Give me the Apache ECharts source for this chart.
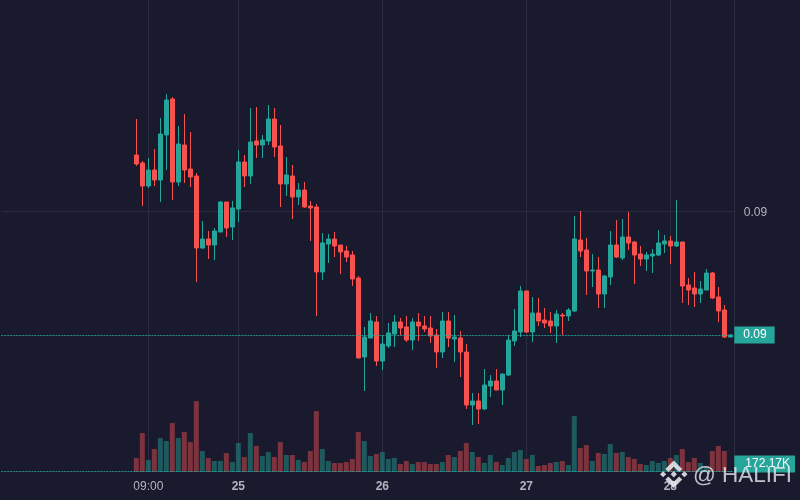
<!DOCTYPE html>
<html>
<head>
<meta charset="utf-8">
<script src="https://cdn.jsdelivr.net/npm/echarts@6/dist/echarts.min.js"></script>
<style>html,body{margin:0;padding:0;background:#191a2e}#c{width:800px;height:500px}</style>
</head>
<body>
<div id="c"></div>
<script>
const openP = [0.09056,0.09048,0.09025,0.09041,0.09031,0.09076,0.09112,0.09029,0.09066,0.09042,
0.09035,0.08963,0.08972,0.08966,0.08979,0.09009,0.08984,0.09002,0.09049,0.09035,
0.09070,0.09066,0.09070,0.09092,0.09065,0.09027,0.09035,0.09014,0.09021,0.09005,
0.09004,0.08939,0.08967,0.08972,0.08966,0.08960,0.08956,0.08933,0.08854,0.08873,
0.08889,0.08850,0.08865,0.08877,0.08889,0.08884,0.08871,0.08889,0.08885,0.08883,
0.08876,0.08859,0.08890,0.08872,0.08873,0.08859,0.08806,0.08810,0.08802,0.08825,
0.08830,0.08821,0.08836,0.08870,0.08879,0.08920,0.08879,0.08898,0.08891,0.08890,
0.08885,0.08896,0.08895,0.08900,0.08971,0.08961,0.08940,0.08941,0.08917,0.08934,
0.08966,0.08953,0.08974,0.08969,0.08957,0.08952,0.08955,0.08956,0.08967,0.08970,
0.08965,0.08969,0.08926,0.08923,0.08917,0.08921,0.08938,0.08914,0.08901,0.08874];
const closeP = [0.09047,0.09025,0.09041,0.09031,0.09077,0.09111,0.09029,0.09067,0.09041,0.09034,
0.08963,0.08972,0.08966,0.08980,0.09009,0.08983,0.09003,0.09049,0.09035,0.09069,
0.09066,0.09071,0.09092,0.09064,0.09027,0.09036,0.09014,0.09021,0.09004,0.09003,
0.08939,0.08968,0.08972,0.08965,0.08959,0.08954,0.08932,0.08853,0.08874,0.08890,
0.08850,0.08867,0.08878,0.08889,0.08883,0.08871,0.08889,0.08885,0.08882,0.08875,
0.08859,0.08890,0.08873,0.08874,0.08859,0.08806,0.08810,0.08802,0.08826,0.08830,
0.08821,0.08837,0.08871,0.08880,0.08920,0.08879,0.08898,0.08890,0.08888,0.08885,
0.08897,0.08895,0.08901,0.08972,0.08960,0.08940,0.08941,0.08917,0.08935,0.08966,
0.08954,0.08974,0.08968,0.08956,0.08952,0.08956,0.08957,0.08968,0.08970,0.08965,
0.08969,0.08925,0.08921,0.08917,0.08922,0.08938,0.08913,0.08900,0.08874,0.08876];
const highP = [0.09092,0.09050,0.09053,0.09062,0.09093,0.09117,0.09114,0.09085,0.09097,0.09079,
0.09038,0.08990,0.08980,0.08983,0.09010,0.09009,0.09010,0.09061,0.09056,0.09103,
0.09104,0.09076,0.09106,0.09103,0.09086,0.09054,0.09046,0.09028,0.09029,0.09010,
0.09007,0.08978,0.08977,0.08979,0.08966,0.08965,0.08960,0.08935,0.08884,0.08898,
0.08895,0.08876,0.08888,0.08896,0.08893,0.08895,0.08893,0.08898,0.08895,0.08895,
0.08882,0.08899,0.08899,0.08896,0.08880,0.08867,0.08818,0.08818,0.08842,0.08836,
0.08842,0.08837,0.08876,0.08902,0.08925,0.08920,0.08914,0.08913,0.08903,0.08899,
0.08901,0.08898,0.08903,0.08995,0.09000,0.08973,0.08957,0.08954,0.08936,0.08980,
0.08991,0.08992,0.08999,0.08970,0.08965,0.08959,0.08962,0.08981,0.08976,0.08975,
0.09011,0.08969,0.08933,0.08939,0.08930,0.08942,0.08939,0.08924,0.08906,0.08877];
const lowP = [0.09045,0.09005,0.09023,0.09025,0.09009,0.09041,0.09011,0.09025,0.09028,0.09024,
0.08929,0.08962,0.08952,0.08951,0.08979,0.08974,0.08971,0.08989,0.09024,0.09027,
0.09053,0.09053,0.09066,0.09054,0.09004,0.09015,0.08992,0.09006,0.09003,0.08970,
0.08895,0.08931,0.08948,0.08954,0.08937,0.08949,0.08925,0.08853,0.08820,0.08873,
0.08845,0.08841,0.08863,0.08864,0.08876,0.08869,0.08861,0.08870,0.08879,0.08868,
0.08843,0.08853,0.08864,0.08849,0.08834,0.08802,0.08786,0.08787,0.08801,0.08814,
0.08821,0.08806,0.08835,0.08865,0.08874,0.08878,0.08869,0.08885,0.08883,0.08878,
0.08868,0.08876,0.08890,0.08899,0.08954,0.08916,0.08924,0.08903,0.08903,0.08926,
0.08953,0.08951,0.08961,0.08927,0.08945,0.08940,0.08938,0.08955,0.08958,0.08947,
0.08964,0.08908,0.08906,0.08904,0.08908,0.08921,0.08912,0.08889,0.08873,0.08874];
const volumeK = [2408,6708,2064,3956,5848,5332,8428,5848,6880,5160,
12212,3612,2408,1892,1892,3268,1720,4988,2580,6708,
4472,2752,3440,2580,5160,2924,2924,2064,1720,3612,
10492,3956,1892,1548,1548,1720,2236,6880,5332,2752,
3096,3440,2236,2408,1376,1892,1376,1720,1720,1376,
1376,1720,2924,2580,3612,4988,3440,2580,1548,2924,
1720,1204,2408,3440,3784,2236,2924,1032,1204,1548,
1720,1892,1204,9632,4128,4644,1892,3268,3096,4816,
3268,3440,2580,2236,1376,1204,1892,1548,1892,2408,
2924,3956,1720,2408,1548,860,3612,4472,3612,172.17];
const tickLabels = {2:'09:00',17:'25',41:'26',65:'27',89:'28'};
const priceTicks = [0.09];
const priceLabels = [0.089985];
const lastPrice = closeP[closeP.length-1];
const lastVolume = volumeK[volumeK.length-1];
const lastPriceText = '0.09';
const lastVolumeText = '172.17K';
const watermark = '@ HALIFI';

const UP = '#26a69a', DOWN = '#f7524f', GRID = '#2a2d3e', TEXT = '#b2b5be', BG = '#191a2e';
const LEAD = 22;
const blanks = Array(LEAD).fill('-');
const categories = Array(LEAD).fill('').concat(openP.map((_, i) => tickLabels[i] || ''));
const candles = blanks.concat(openP.map((o, i) => [o, closeP[i], lowP[i], highP[i]]));
const volumes = blanks.concat(volumeK.map((v, i) => ({
  value: v,
  itemStyle: {color: closeP[i] > openP[i] ? UP : DOWN, opacity: 0.45}
})));
const hasTick = (i, v) => v !== '';
const logoShapes = [
  [[38.73,53.2],[63.32,28.62],[87.92,53.22],[102.22,38.91],[63.32,0],[24.42,38.9]],
  [[0,63.31],[14.3,49],[28.61,63.31],[14.3,77.61]],
  [[38.73,73.41],[63.32,98],[87.92,73.4],[102.23,87.69],[63.33,126.6],[24.42,87.72]],
  [[98,63.31],[112.3,49],[126.61,63.3],[112.3,77.62]],
  [[77.83,63.3],[63.32,48.78],[48.81,63.28],[63.32,77.78]]
];
const dashLine = {color: 'rgba(38,166,154,0.85)', type: [2, 1], width: 1};

const chart = echarts.init(document.getElementById('c'), null, {renderer: 'canvas'});
chart.setOption({
  animation: false,
  backgroundColor: BG,
  textStyle: {fontFamily: '"Liberation Sans", Arial, sans-serif'},
  grid: {left: 1.3, top: 0, width: 732, height: 472, containLabel: false},
  xAxis: {
    type: 'category', data: categories, boundaryGap: true,
    axisLine: {show: false},
    axisTick: {show: false, alignWithLabel: true, interval: hasTick},
    splitLine: {show: true, alignWithLabel: true, interval: hasTick, lineStyle: {color: GRID, width: 1}},
    axisLabel: {
      interval: hasTick, margin: 9, color: TEXT, fontSize: 12, hideOverlap: false,
      formatter: v => /^\d\d$/.test(v) ? '{b|' + v + '}' : v,
      rich: {b: {fontWeight: 'bold', fontSize: 12, color: TEXT}}
    }
  },
  yAxis: [{
    type: 'value', position: 'right', offset: 1, min: 0.08739, max: 0.09211, scale: true,
    axisLine: {show: true, onZero: false, lineStyle: {color: GRID}},
    axisTick: {show: false, customValues: priceTicks},
    splitLine: {show: true, lineStyle: {color: GRID, width: 1}},
    axisLabel: {customValues: priceLabels, margin: 9.5, color: TEXT, fontSize: 12, formatter: v => v.toFixed(2)}
  }, {
    type: 'value', position: 'left', min: 0, max: 81264,
    axisLine: {show: false}, axisTick: {show: false}, axisLabel: {show: false}, splitLine: {show: false}
  }],
  series: [{
    type: 'bar', name: 'Volume', yAxisIndex: 1, data: volumes, barWidth: 5, z: 1,
    markLine: {
      silent: true, symbol: 'none', animation: false, precision: 6,
      lineStyle: dashLine,
      data: [{yAxis: lastVolume}],
      label: {
        show: true, position: 'end', distance: 0, formatter: lastVolumeText, color: '#fff', fontSize: 12,
        backgroundColor: UP, padding: [2, 5, 2, 11], lineHeight: 13, offset: [1, -7]
      }
    }
  }, {
    type: 'candlestick', name: 'Price', data: candles, barWidth: 5, z: 2,
    itemStyle: {color: UP, color0: DOWN, borderColor: UP, borderColor0: DOWN, borderWidth: 1},
    markLine: {
      silent: true, symbol: 'none', animation: false, precision: 6,
      lineStyle: dashLine,
      data: [{yAxis: lastPrice}],
      label: {
        show: true, position: 'end', distance: 0, formatter: lastPriceText, color: '#fff', fontSize: 12,
        backgroundColor: UP, padding: [2, 8, 2, 9], lineHeight: 13, offset: [1, 0]
      }
    }
  }],
  graphic: logoShapes.map(pts => ({
    type: 'polygon', z: 100,
    shape: {points: pts.map(p => [660 + p[0] * 27.5 / 126.61, 460.5 + p[1] * 27.5 / 126.61])},
    style: {fill: 'rgba(235,235,240,0.88)'}
  })).concat([{
    type: 'text', z: 100, x: 693, y: 464,
    style: {
      text: watermark, fill: 'rgba(235,235,240,0.8)', font: '400 22.5px "Liberation Sans", sans-serif',
      shadowColor: 'rgba(0,0,0,0.6)', shadowBlur: 1, shadowOffsetX: 1, shadowOffsetY: 1
    }
  }])
});
</script>
</body>
</html>
